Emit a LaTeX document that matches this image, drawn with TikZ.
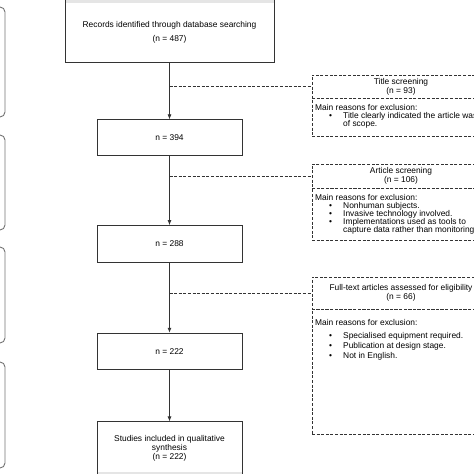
\documentclass[tikz,border=0pt]{standalone}
\usepackage{fontspec}
\setmainfont{Liberation Sans}
\usetikzlibrary{positioning,arrows.meta,calc}
\tikzstyle{box} = [rectangle, draw=black!80, line width=0.7pt, minimum width=145pt, align=center, inner sep=2pt]
\tikzstyle{band} = [path picture={\fill[black!10] (path picture bounding box.north west) rectangle (path picture bounding box.north east |- GRAY);}]
\tikzstyle{dbox} = [rectangle, draw=black!80, line width=0.6pt, dash pattern=on 3pt off 1.6pt, minimum width=178pt, outer sep=0pt, align=center]
\tikzstyle{reasons} = [anchor=north west, align=left, inner sep=0pt, font=\fontsize{8.4}{8}\selectfont]
\tikzstyle{stage} = [rectangle, draw=black!55, line width=0.9pt, rounded corners=5pt, minimum width=50pt]
\tikzstyle{flow} = [-{Latex[length=5pt,width=4pt]}, line width=0.7pt, black!80]
\tikzstyle{skip} = [draw=black!80, line width=0.6pt, dash pattern=on 3pt off 1.6pt]
\newcommand{\bitem}[1]{\hspace*{14pt}\makebox[14pt][l]{\textbullet}#1}
\newcommand{\bcont}[1]{\hspace*{28pt}#1}

\begin{document}
\begin{tikzpicture}[x=1pt, y=-1pt, font=\fontsize{8.4}{9}\selectfont]
      \useasboundingbox (0,0) rectangle (474,474);
      \clip (0,0) rectangle (474,474);

      %%%%%%%%%%%%%%%%%%%%%%%%%%%%%%%%%%%%%%%%%%%%%%%%%
      % STAGES
      %%%%%%%%%%%%%%%%%%%%%%%%%%%%%%%%%%%%%%%%%%%%%%%%%
      \node[stage, minimum height=110pt] (S1) at (-20,62)    {};
      \node[stage, minimum height=95pt]  (S2) at (-20,182.5) {};
      \node[stage, minimum height=96pt]  (S3) at (-20,295)   {};
      \node[stage, minimum height=106pt] (S4) at (-20,415)   {};

      %%%%%%%%%%%%%%%%%%%%%%%%%%%%%%%%%%%%%%%%%%%%%%%%%
      % MAIN FLOW
      %%%%%%%%%%%%%%%%%%%%%%%%%%%%%%%%%%%%%%%%%%%%%%%%%
      \coordinate (GRAY) at (0,2.5);
      \node[box, band, minimum width=209pt, minimum height=82pt,
            label={[yshift=-11.5pt, align=center]center:{Records identified through database searching\\[5.5pt](n = 487)}}]
            (REC) at (169.5,21) {};

      \node[box, minimum height=36pt, below=57pt of REC]  (N394) {n = 394};
      \node[box, minimum height=37pt, below=69pt of N394] (N288) {n = 288};
      \node[box, minimum height=36pt, below=70pt of N288] (N222) {n = 222};

      \coordinate (GRAY) at (0,472);
      \node[box, minimum height=71pt, below=52pt of N222,
            path picture={\fill[black!10] (path picture bounding box.south west) rectangle (path picture bounding box.south east |- GRAY);},
            label={[yshift=8.5pt, align=center]center:{Studies included in qualitative\\synthesis\\(n = 222)}}]
            (FIN) {};

      \draw[flow] (REC)  -- (N394);
      \draw[flow] (N394) -- (N288);
      \draw[flow] (N288) -- (N222);
      \draw[flow] (N222) -- (FIN);

      %%%%%%%%%%%%%%%%%%%%%%%%%%%%%%%%%%%%%%%%%%%%%%%%%
      % EXCLUSIONS
      %%%%%%%%%%%%%%%%%%%%%%%%%%%%%%%%%%%%%%%%%%%%%%%%%
      % title screening
      \node[dbox, minimum height=23pt, anchor=north west] (T1) at (312,75) {Title screening\\(n = 93)};
      \node[dbox, minimum height=38pt, below=0pt of T1] (B1) {};
      \node[reasons] (R1) at ($(B1.north west)+(3,6)$)
           {Main reasons for exclusion:\\
            \bitem{Title clearly indicated the article was out}\\
            \bcont{of scope.}};

      % article screening
      \node[dbox, minimum height=24pt, anchor=north west] (T2) at (312,164) {Article screening\\(n = 106)};
      \node[dbox, minimum height=52pt, below=0pt of T2] (B2) {};
      \node[reasons] (R2) at ($(B2.north west)+(3,6)$)
           {Main reasons for exclusion:\\
            \bitem{Nonhuman subjects.}\\
            \bitem{Invasive technology involved.}\\
            \bitem{Implementations used as tools to}\\
            \bcont{capture data rather than monitoring}};

      % full-text eligibility
      \node[dbox, minimum height=32pt, anchor=north west] (T3) at (312,277) {Full-text articles assessed for eligibility\\(n = 66)};
      \node[dbox, minimum height=125pt, below=0pt of T3] (B3) {};
      \node[reasons, font=\fontsize{8.4}{10}\selectfont] (R3) at ($(B3.north west)+(3,10)$)
           {Main reasons for exclusion:\\[3pt]
            \bitem{Specialised equipment required.}\\
            \bitem{Publication at design stage.}\\
            \bitem{Not in English.}};

      \coordinate (J1) at (REC.south |- T1.west);
      \coordinate (J2) at (N394.south |- T2.west);
      \coordinate (J3) at (N288.south |- T3.west);
      \draw[skip] (J1) -- (T1.west);
      \draw[skip] (J2) -- (T2.west);
      \draw[skip] (J3) -- (T3.west);
\end{tikzpicture}
\end{document}
